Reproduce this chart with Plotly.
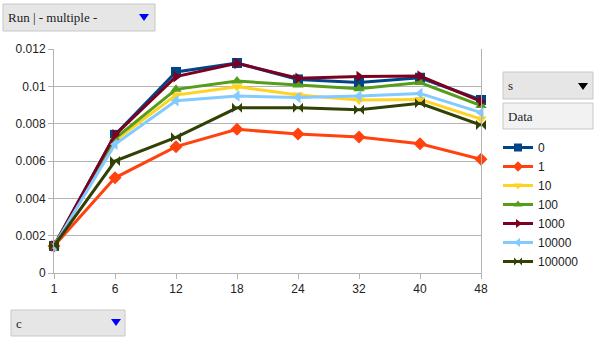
import plotly.graph_objects as go

categories = ["1", "6", "12", "18", "24", "32", "40", "48"]
series_names = ["0", "1", "10", "100", "1000", "10000", "100000"]
s0 = [0.00145, 0.0074, 0.01077, 0.01125, 0.01037, 0.01021, 0.01046, 0.00927]
s1 = [0.00145, 0.0051, 0.00677, 0.0077, 0.00744, 0.00728, 0.00692, 0.00609]
s10 = [0.00145, 0.0071, 0.00953, 0.00998, 0.00953, 0.00927, 0.0093, 0.00825]
s100 = [0.00145, 0.0072, 0.00984, 0.01028, 0.01007, 0.00987, 0.0102, 0.00897]
s1000 = [0.00145, 0.0074, 0.01052, 0.01123, 0.01043, 0.01053, 0.01055, 0.0092]
s10000 = [0.00145, 0.0069, 0.00923, 0.00948, 0.0094, 0.00948, 0.00962, 0.00859]
s100000 = [0.00145, 0.006, 0.00727, 0.00885, 0.00885, 0.00875, 0.00909, 0.00793]
y_ticks = [0, 0.002, 0.004, 0.006, 0.008, 0.01, 0.012]
y_tick_labels = ["0", "0.002", "0.004", "0.006", "0.008", "0.01", "0.012"]

values = [s0, s1, s10, s100, s1000, s10000, s100000]
colors = ["#004586", "#ff420e", "#ffd320", "#579d1c", "#7e0021", "#83caff", "#314004"]
symbols = ["square", "diamond", "triangle-down", "triangle-up", "triangle-right", "triangle-left", "bowtie"]

W, H = 605, 340
L, R, T, B = 54, 481, 49, 273

fig = go.Figure()
for name, vals, c, s in zip(series_names, values, colors, symbols):
    fig.add_trace(go.Scatter(x=categories, y=vals, name=name, mode="lines+markers",
                             line=dict(color=c, width=3),
                             marker=dict(symbol=s, size=10, color=c),
                             cliponaxis=False, showlegend=False, legendgroup=name))
# legend entries (smaller legend symbols, as in the reference)
for name, c, s in zip(series_names, colors, symbols):
    fig.add_trace(go.Scatter(x=[None], y=[None], name=name, mode="lines+markers",
                             line=dict(color=c, width=3),
                             marker=dict(symbol=s, size=8, color=c),
                             showlegend=True, legendgroup=name))

def px(x):
    return (x - L) / (R - L)

def py(y):
    return (B - y) / (B - T)

shapes = []
annotations = []

def box(x0, y0, x1, y1, fill, text, font_family, tri=None):
    shapes.append(dict(type="rect", xref="paper", yref="paper",
                       x0=px(x0), x1=px(x1), y0=py(y1), y1=py(y0),
                       fillcolor=fill, line=dict(color="#c8c8c8", width=1), layer="above"))
    annotations.append(dict(xref="paper", yref="paper", x=px(x0 + 3), y=py((y0 + y1) / 2),
                            xanchor="left", yanchor="middle", showarrow=False, text=text,
                            font=dict(family=font_family, size=13, color="#222222")))
    if tri:
        cx, cy, col = tri
        path = "M {} {} L {} {} L {} {} Z".format(px(cx - 5), py(cy - 3), px(cx + 5), py(cy - 3), px(cx), py(cy + 4))
        shapes.append(dict(type="path", xref="paper", yref="paper", path=path,
                           fillcolor=col, line=dict(color=col, width=0), layer="above"))

box(3, 4, 155, 31, "#e6e6e6", "Run | - multiple -", "Liberation Serif", (144, 17, "#0000ff"))
box(503, 72, 593, 99, "#e6e6e6", "s", "Liberation Serif", (583, 86, "#000000"))
box(503, 103, 593, 129, "#f2f2f2", "Data", "Liberation Serif")
box(11, 310, 125, 336, "#e6e6e6", "c", "Liberation Serif", (116, 322, "#0000ff"))

fig.update_layout(
    width=W, height=H,
    margin=dict(l=L, r=W - R, t=T, b=H - B, pad=0),
    paper_bgcolor="white", plot_bgcolor="white",
    font=dict(family="Liberation Sans", size=12, color="#222222"),
    showlegend=True,
    legend=dict(x=px(498), y=py(133), xanchor="left", yanchor="top",
                font=dict(family="Liberation Sans", size=12, color="#222222"),
                itemwidth=30, tracegroupgap=0, bgcolor="rgba(0,0,0,0)"),
    shapes=shapes,
    annotations=annotations,
    xaxis=dict(type="category", range=[0, 7], showgrid=False, showline=True,
               linecolor="#b3b3b3", linewidth=1, ticks="outside", ticklen=5,
               tickcolor="#b3b3b3", zeroline=False, tickfont=dict(size=12)),
    yaxis=dict(range=[0, 0.012], tickvals=y_ticks, ticktext=y_tick_labels,
               showgrid=True, gridcolor="#b3b3b3", gridwidth=1, showline=True,
               linecolor="#b3b3b3", linewidth=1, mirror=True, ticks="outside", ticklen=5,
               tickcolor="#b3b3b3", zeroline=False, tickfont=dict(size=12)),
)

fig.write_html("out.html")
